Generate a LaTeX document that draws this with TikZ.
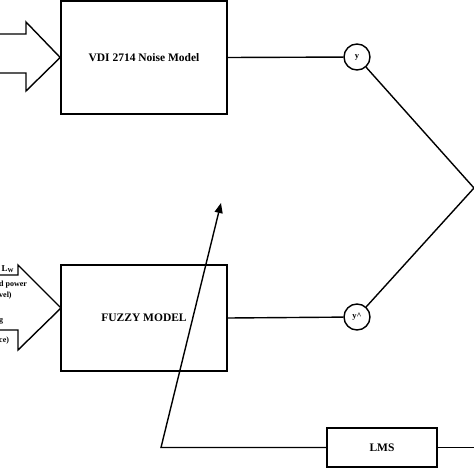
\documentclass[tikz,border=0pt]{standalone}
\usepackage{fontspec}
\setmainfont{Liberation Serif}
\usetikzlibrary{arrows.meta}

\tikzset{
  blok/.style={draw, line width=1.6pt, font=\fontsize{11.5}{13}\selectfont\bfseries, inner sep=0pt},
  uitgang/.style={draw, circle, line width=1.4pt, minimum size=26pt, inner sep=0pt, font=\fontsize{8.5}{9}\selectfont\bfseries},
  lijn/.style={line width=1.4pt},
  stukje/.style={font=\fontsize{8}{9}\selectfont\bfseries, inner sep=0pt, anchor=base west}
}

\begin{document}
\begin{tikzpicture}[x=1pt, y=-1pt, >={Triangle[length=10pt,width=8pt]}]

  \useasboundingbox (0,0) rectangle (474,474);

  % -------------------------
  % Modellen
  % -------------------------
  \node[blok, minimum width=166pt, minimum height=113pt] (vdi) at (144,57.5) {VDI 2714 Noise Model};
  \node[blok, minimum width=166pt, minimum height=106pt] (fuzzy) at (144,318) {FUZZY MODEL};
  \node[blok, minimum width=110pt, minimum height=39pt] (lms) at (382,447.5) {LMS};

  \node[uitgang] (y) at (357,57) {y};
  \node[uitgang] (yhat) at (357,317) {y\textasciicircum};

  \coordinate (som) at (474,188);
  \coordinate (uit) at (476,447.5);
  \coordinate (hoek) at (161,447.5);
  \coordinate (pijlpunt) at (221,203);

  % -------------------------
  % Ingangspijlen
  % -------------------------
  \draw[lijn] (-5,34) -- (26,34) -- (26,22) -- (vdi.west) -- (26,91) -- (26,73) -- (-5,73);
  \draw[lijn] (-5,275) -- (18,275) -- (18,265) -- (61,308) -- (18,350) -- (18,330) -- (-5,330);

  \node[stukje, font=\fontsize{9}{10}\selectfont\bfseries] (lw) at (1.5,271) {L\textsubscript{W}};
  \node[stukje] (lw2) at (-1,286) {d power};
  \node[stukje] (lw3) at (-1,297) {vel)};
  \node[stukje] (sp1) at (-1,322) {g};
  \node[stukje] (sp2) at (-1,342) {ce)};

  % -------------------------
  % Verbindingen
  % -------------------------
  \draw[lijn] (vdi.east) -- (y);
  \draw[lijn] (fuzzy.east) -- (yhat);
  \draw[lijn] (y) -- (som);
  \draw[lijn] (yhat) -- (som);

  \draw[lijn] (lms.east) -- (uit);
  \draw[lijn, ->] (lms.west) -- (hoek) -- (pijlpunt);

\end{tikzpicture}
\end{document}
